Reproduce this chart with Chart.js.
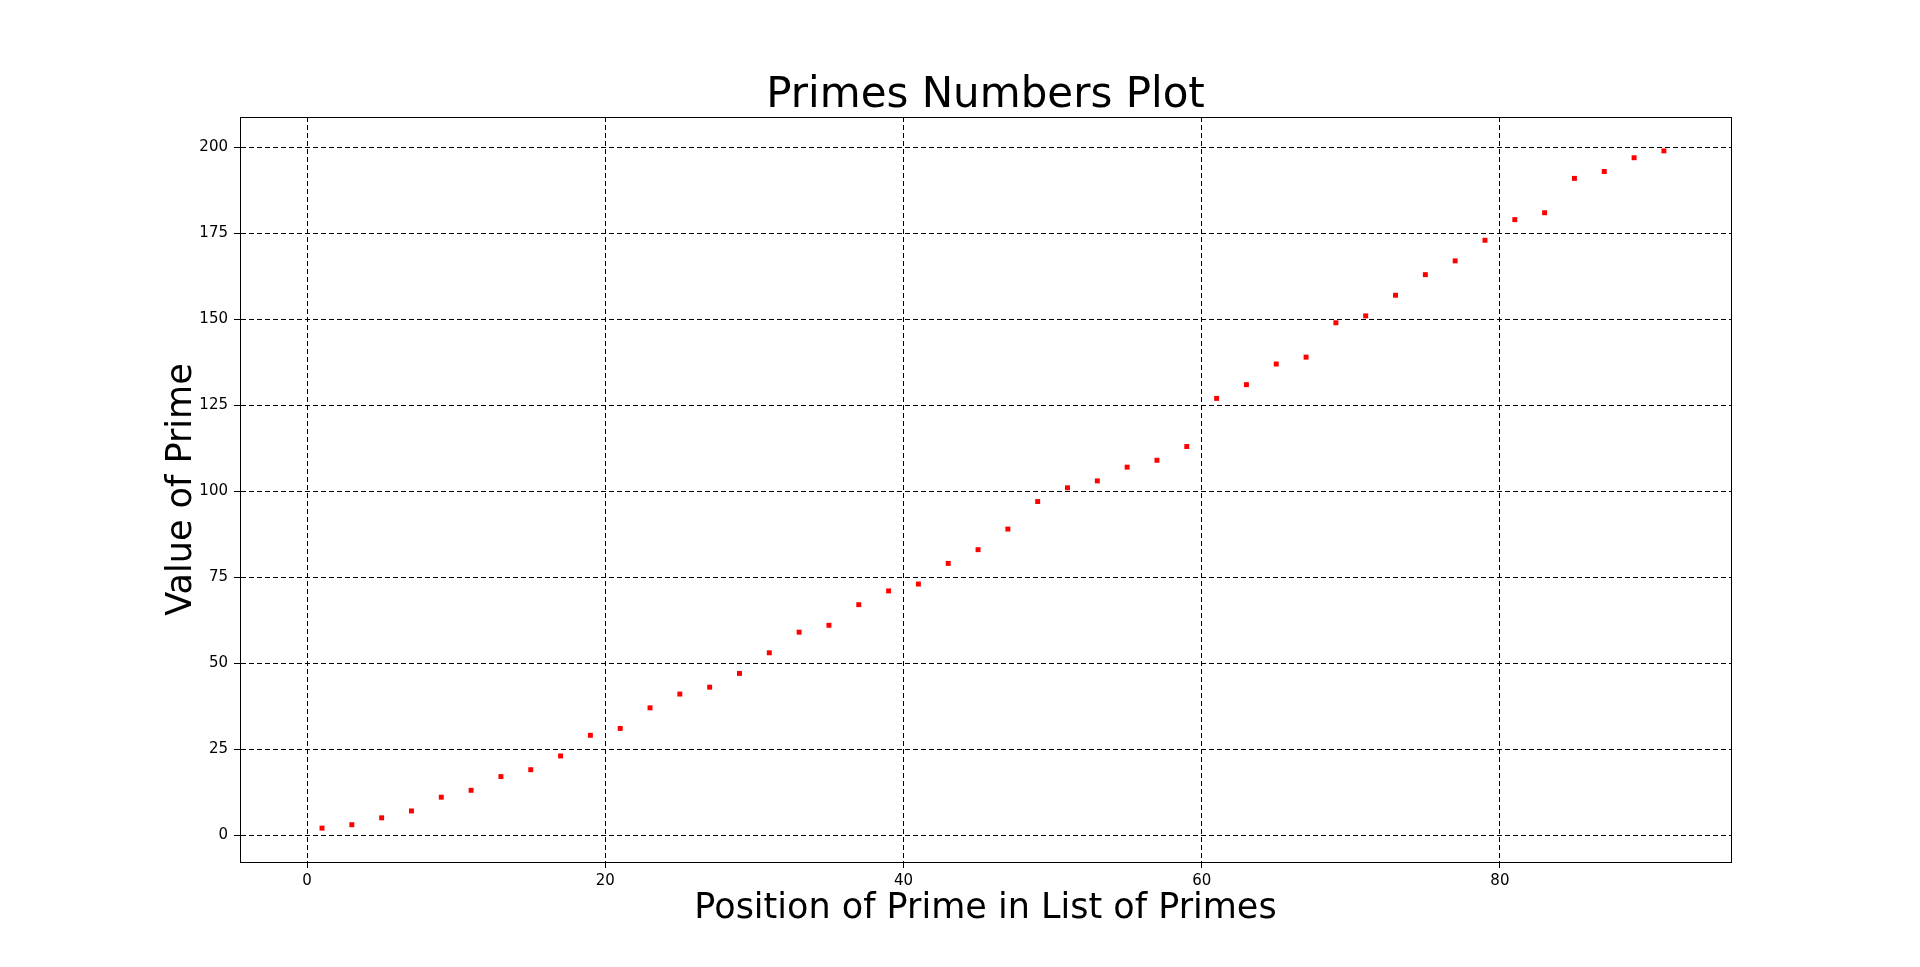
<!DOCTYPE html>
<html><head><meta charset="utf-8">
<script src="https://cdn.jsdelivr.net/npm/chart.js@4"></script>
<style>html,body{margin:0;padding:0;background:#fff}#w{width:1920px;height:967px}</style>
</head><body><div id="w"><canvas id="c"></canvas></div>
<script>
const positions = [1,3,5,7,9,11,13,15,17,19,21,23,25,27,29,31,33,35,37,39,41,43,45,47,49,51,53,55,57,59,61,63,65,67,69,71,73,75,77,79,81,83,85,87,89,91];
const primes = [2,3,5,7,11,13,17,19,23,29,31,37,41,43,47,53,59,61,67,71,73,79,83,89,97,101,103,107,109,113,127,131,137,139,149,151,157,163,167,173,179,181,191,193,197,199];
const xTicks = [0,20,40,60,80];
const yTicks = [0,25,50,75,100,125,150,175,200];
const titleText = 'Primes Numbers Plot';
const xLabel = 'Position of Prime in List of Primes';
const yLabel = 'Value of Prime';
const font = 'DejaVu Sans';
const deco = {
  id:'deco',
  afterDraw(ch){
    const a=ch.chartArea, c=ch.ctx;
    c.save();
    c.strokeStyle='#000'; c.lineWidth=1; c.setLineDash([]);
    c.strokeRect(a.left+0.5,a.top+0.5,a.right-a.left,a.bottom-a.top);
    c.fillStyle='#000'; c.textAlign='center'; c.textBaseline='middle';
    const cx=(a.left+a.right)/2, cy=(a.top+a.bottom)/2;
    c.font='42px "'+font+'"'; c.fillText(titleText,cx,96);
    c.font='35px "'+font+'"'; c.fillText(xLabel,cx,909);
    c.translate(182,cy); c.rotate(-Math.PI/2); c.fillText(yLabel,0,0);
    c.restore();
  }
};
new Chart(document.getElementById('c'),{
  type:'scatter',
  data:{datasets:[{data:positions.map((x,i)=>({x,y:primes[i]})),backgroundColor:'#ff0000',borderColor:'#ff0000',pointStyle:'rect',pointRadius:3.5,borderWidth:0}]},
  options:{
    responsive:true,maintainAspectRatio:false,animation:false,
    layout:{padding:{top:117,right:189,left:0,bottom:0}},
    plugins:{legend:{display:false},tooltip:{enabled:false}},
    scales:{
      x:{type:'linear',min:-4.5,max:95.5,
        afterBuildTicks:s=>{s.ticks=xTicks.map(v=>({value:v}));},
        afterFit:s=>{s.height=105;},
        grid:{color:'#000',lineWidth:1,tickLength:6,drawTicks:true},
        border:{display:true,color:'#000',dash:[5,3]},
        ticks:{color:'#000',font:{family:font,size:15},padding:4,maxRotation:0}},
      y:{type:'linear',min:-7.85,max:208.85,
        afterBuildTicks:s=>{s.ticks=yTicks.map(v=>({value:v}));},
        afterFit:s=>{s.width=240;},
        grid:{color:'#000',lineWidth:1,tickLength:6},
        border:{display:true,color:'#000',dash:[5,3]},
        ticks:{color:'#000',font:{family:font,size:15},padding:6}}
    }
  },
  plugins:[deco]
});
</script></body></html>
